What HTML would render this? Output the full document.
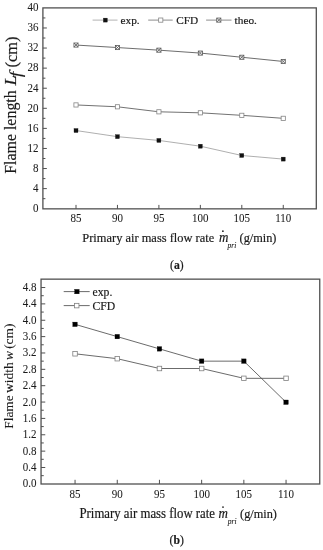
<!DOCTYPE html>
<html><head><meta charset="utf-8"><title>Flame length and width</title>
<style>
html,body{margin:0;padding:0;background:#fff;}
svg{display:block;}
text{font-family:"Liberation Serif","Times New Roman",serif;fill:#1a1a1a;stroke:#1a1a1a;stroke-width:0.18px;}
</style></head><body>
<svg width="323" height="550" viewBox="0 0 323 550">
<rect width="323" height="550" fill="#ffffff"/>

<g id="chart-a">
<rect x="42.9" y="7.9" width="273.4" height="200.95" fill="none" stroke="#505050" stroke-width="1.3"/>
<text transform="translate(38.6,211.98) scale(1,1.09)" font-size="11" text-anchor="end" style="stroke-width:0.05px">0</text>
<line x1="42.9" y1="198.66" x2="45.4" y2="198.66" stroke="#505050" stroke-width="1"/>
<line x1="42.9" y1="188.62" x2="46.85" y2="188.62" stroke="#505050" stroke-width="1"/>
<text transform="translate(38.6,191.91) scale(1,1.09)" font-size="11" text-anchor="end" style="stroke-width:0.05px">4</text>
<line x1="42.9" y1="178.58" x2="45.4" y2="178.58" stroke="#505050" stroke-width="1"/>
<line x1="42.9" y1="168.54" x2="46.85" y2="168.54" stroke="#505050" stroke-width="1"/>
<text transform="translate(38.6,171.82) scale(1,1.09)" font-size="11" text-anchor="end" style="stroke-width:0.05px">8</text>
<line x1="42.9" y1="158.5" x2="45.4" y2="158.5" stroke="#505050" stroke-width="1"/>
<line x1="42.9" y1="148.46" x2="46.85" y2="148.46" stroke="#505050" stroke-width="1"/>
<text transform="translate(38.6,151.74) scale(1,1.09)" font-size="11" text-anchor="end" style="stroke-width:0.05px">12</text>
<line x1="42.9" y1="138.42" x2="45.4" y2="138.42" stroke="#505050" stroke-width="1"/>
<line x1="42.9" y1="128.38" x2="46.85" y2="128.38" stroke="#505050" stroke-width="1"/>
<text transform="translate(38.6,131.66) scale(1,1.09)" font-size="11" text-anchor="end" style="stroke-width:0.05px">16</text>
<line x1="42.9" y1="118.34" x2="45.4" y2="118.34" stroke="#505050" stroke-width="1"/>
<line x1="42.9" y1="108.3" x2="46.85" y2="108.3" stroke="#505050" stroke-width="1"/>
<text transform="translate(38.6,111.58) scale(1,1.09)" font-size="11" text-anchor="end" style="stroke-width:0.05px">20</text>
<line x1="42.9" y1="98.26" x2="45.4" y2="98.26" stroke="#505050" stroke-width="1"/>
<line x1="42.9" y1="88.22" x2="46.85" y2="88.22" stroke="#505050" stroke-width="1"/>
<text transform="translate(38.6,91.5) scale(1,1.09)" font-size="11" text-anchor="end" style="stroke-width:0.05px">24</text>
<line x1="42.9" y1="78.18" x2="45.4" y2="78.18" stroke="#505050" stroke-width="1"/>
<line x1="42.9" y1="68.14" x2="46.85" y2="68.14" stroke="#505050" stroke-width="1"/>
<text transform="translate(38.6,71.42) scale(1,1.09)" font-size="11" text-anchor="end" style="stroke-width:0.05px">28</text>
<line x1="42.9" y1="58.1" x2="45.4" y2="58.1" stroke="#505050" stroke-width="1"/>
<line x1="42.9" y1="48.06" x2="46.85" y2="48.06" stroke="#505050" stroke-width="1"/>
<text transform="translate(38.6,51.35) scale(1,1.09)" font-size="11" text-anchor="end" style="stroke-width:0.05px">32</text>
<line x1="42.9" y1="38.02" x2="45.4" y2="38.02" stroke="#505050" stroke-width="1"/>
<line x1="42.9" y1="27.98" x2="46.85" y2="27.98" stroke="#505050" stroke-width="1"/>
<text transform="translate(38.6,31.27) scale(1,1.09)" font-size="11" text-anchor="end" style="stroke-width:0.05px">36</text>
<line x1="42.9" y1="17.94" x2="45.4" y2="17.94" stroke="#505050" stroke-width="1"/>
<text transform="translate(38.6,11.19) scale(1,1.09)" font-size="11" text-anchor="end" style="stroke-width:0.05px">40</text>
<line x1="76" y1="208.85" x2="76" y2="204.9" stroke="#505050" stroke-width="1"/>
<text transform="translate(76,221.6) scale(1,1.06)" font-size="11" text-anchor="middle" style="stroke-width:0.05px">85</text>
<line x1="117.45" y1="208.85" x2="117.45" y2="204.9" stroke="#505050" stroke-width="1"/>
<text transform="translate(117.45,221.6) scale(1,1.06)" font-size="11" text-anchor="middle" style="stroke-width:0.05px">90</text>
<line x1="158.9" y1="208.85" x2="158.9" y2="204.9" stroke="#505050" stroke-width="1"/>
<text transform="translate(158.9,221.6) scale(1,1.06)" font-size="11" text-anchor="middle" style="stroke-width:0.05px">95</text>
<line x1="200.35" y1="208.85" x2="200.35" y2="204.9" stroke="#505050" stroke-width="1"/>
<text transform="translate(200.35,221.6) scale(1,1.06)" font-size="11" text-anchor="middle" style="stroke-width:0.05px">100</text>
<line x1="241.8" y1="208.85" x2="241.8" y2="204.9" stroke="#505050" stroke-width="1"/>
<text transform="translate(241.8,221.6) scale(1,1.06)" font-size="11" text-anchor="middle" style="stroke-width:0.05px">105</text>
<line x1="283.25" y1="208.85" x2="283.25" y2="204.9" stroke="#505050" stroke-width="1"/>
<text transform="translate(283.25,221.6) scale(1,1.06)" font-size="11" text-anchor="middle" style="stroke-width:0.05px">110</text>
<polyline fill="none" stroke="#5c5c5c" stroke-width="0.9" points="76,45.05 117.45,47.56 158.9,50.17 200.35,53.08 241.8,57.25 283.25,61.46"/>
<polyline fill="none" stroke="#626262" stroke-width="0.9" points="76,104.94 117.45,106.79 158.9,111.81 200.35,112.82 241.8,115.33 283.25,118.34"/>
<polyline fill="none" stroke="#9a9a9a" stroke-width="0.8" points="76,130.54 117.45,136.66 158.9,140.43 200.35,146.2 241.8,155.49 283.25,159.1"/>
<rect x="73.95" y="43" width="4.1" height="4.1" fill="#fff" stroke="#555" stroke-width="0.8"/><path d="M73.95 43L78.05 47.1M73.95 47.1L78.05 43" stroke="#555" stroke-width="0.8" fill="none"/>
<rect x="115.4" y="45.51" width="4.1" height="4.1" fill="#fff" stroke="#555" stroke-width="0.8"/><path d="M115.4 45.51L119.5 49.61M115.4 49.61L119.5 45.51" stroke="#555" stroke-width="0.8" fill="none"/>
<rect x="156.85" y="48.12" width="4.1" height="4.1" fill="#fff" stroke="#555" stroke-width="0.8"/><path d="M156.85 48.12L160.95 52.22M156.85 52.22L160.95 48.12" stroke="#555" stroke-width="0.8" fill="none"/>
<rect x="198.3" y="51.03" width="4.1" height="4.1" fill="#fff" stroke="#555" stroke-width="0.8"/><path d="M198.3 51.03L202.4 55.13M198.3 55.13L202.4 51.03" stroke="#555" stroke-width="0.8" fill="none"/>
<rect x="239.75" y="55.2" width="4.1" height="4.1" fill="#fff" stroke="#555" stroke-width="0.8"/><path d="M239.75 55.2L243.85 59.3M239.75 59.3L243.85 55.2" stroke="#555" stroke-width="0.8" fill="none"/>
<rect x="281.2" y="59.41" width="4.1" height="4.1" fill="#fff" stroke="#555" stroke-width="0.8"/><path d="M281.2 59.41L285.3 63.51M281.2 63.51L285.3 59.41" stroke="#555" stroke-width="0.8" fill="none"/>
<rect x="73.9" y="102.84" width="4.2" height="4.2" fill="#fff" stroke="#858585" stroke-width="0.8"/>
<rect x="115.35" y="104.69" width="4.2" height="4.2" fill="#fff" stroke="#858585" stroke-width="0.8"/>
<rect x="156.8" y="109.71" width="4.2" height="4.2" fill="#fff" stroke="#858585" stroke-width="0.8"/>
<rect x="198.25" y="110.72" width="4.2" height="4.2" fill="#fff" stroke="#858585" stroke-width="0.8"/>
<rect x="239.7" y="113.23" width="4.2" height="4.2" fill="#fff" stroke="#858585" stroke-width="0.8"/>
<rect x="281.15" y="116.24" width="4.2" height="4.2" fill="#fff" stroke="#858585" stroke-width="0.8"/>
<rect x="74" y="128.54" width="4" height="4" fill="#111" stroke="#111" stroke-width="0.3"/>
<rect x="115.45" y="134.66" width="4" height="4" fill="#111" stroke="#111" stroke-width="0.3"/>
<rect x="156.9" y="138.43" width="4" height="4" fill="#111" stroke="#111" stroke-width="0.3"/>
<rect x="198.35" y="144.2" width="4" height="4" fill="#111" stroke="#111" stroke-width="0.3"/>
<rect x="239.8" y="153.49" width="4" height="4" fill="#111" stroke="#111" stroke-width="0.3"/>
<rect x="281.25" y="157.1" width="4" height="4" fill="#111" stroke="#111" stroke-width="0.3"/>
<line x1="92.6" y1="20.1" x2="117.5" y2="20.1" stroke="#a0a0a0" stroke-width="0.8"/>
<rect x="103.35" y="18.1" width="4" height="4" fill="#111" stroke="#111" stroke-width="0.3"/>
<text x="120.5" y="24.0" font-size="11.3">exp.</text>
<line x1="148.2" y1="20.1" x2="172.7" y2="20.1" stroke="#707070" stroke-width="0.8"/>
<rect x="158.65" y="18" width="4.2" height="4.2" fill="#fff" stroke="#858585" stroke-width="0.8"/>
<text x="176.3" y="24.0" font-size="11.3">CFD</text>
<line x1="206.1" y1="20.1" x2="231.5" y2="20.1" stroke="#707070" stroke-width="0.8"/>
<rect x="216.75" y="18.05" width="4.1" height="4.1" fill="#fff" stroke="#555" stroke-width="0.8"/><path d="M216.75 18.05L220.85 22.15M216.75 22.15L220.85 18.05" stroke="#555" stroke-width="0.8" fill="none"/>
<text x="234.6" y="24.0" font-size="11.3">theo.</text>
<text transform="translate(16.4,173.8) rotate(-90) scale(0.995,1)" font-size="16">Flame length</text>
<text transform="translate(16.4,85.4) rotate(-90) scale(1.12,1)" font-size="16.6" font-style="italic">L</text>
<text transform="translate(21.2,77.2) rotate(-90) scale(1.25,1)" font-size="16" font-style="italic" style="stroke-width:0.1px">f</text>
<text transform="translate(16.5,67.4) rotate(-90) scale(1.02,1)" font-size="16">(cm)</text>
<text transform="translate(82.3,242.4) scale(1,1.06)" font-size="12.45">Primary air mass flow rate</text><text transform="translate(218.9,242.4) scale(1,1.06)" font-size="13" font-style="italic">m</text><text x="227.6" y="248.3" font-size="7.5" font-style="italic" style="stroke-width:0.1px">pri</text><text transform="translate(239.6,242.4) scale(1,1.06)" font-size="12.3">(g/min)</text><circle cx="222.9" cy="231.2" r="0.85" fill="#1a1a1a"/>
<text x="176.8" y="268.7" font-size="11.6" text-anchor="middle">(<tspan font-weight="bold">a</tspan>)</text>
</g>
<g id="chart-b">
<rect x="41.05" y="279.15" width="278.7" height="204.85" fill="none" stroke="#505050" stroke-width="1.3"/>
<text transform="translate(36.6,487.34) scale(1,1.08)" font-size="11" text-anchor="end" style="stroke-width:0.05px">0.0</text>
<line x1="41.05" y1="475.67" x2="43.75" y2="475.67" stroke="#505050" stroke-width="1"/>
<line x1="41.05" y1="467.49" x2="45.25" y2="467.49" stroke="#505050" stroke-width="1"/>
<text transform="translate(36.6,470.98) scale(1,1.08)" font-size="11" text-anchor="end" style="stroke-width:0.05px">0.4</text>
<line x1="41.05" y1="459.31" x2="43.75" y2="459.31" stroke="#505050" stroke-width="1"/>
<line x1="41.05" y1="451.13" x2="45.25" y2="451.13" stroke="#505050" stroke-width="1"/>
<text transform="translate(36.6,454.62) scale(1,1.08)" font-size="11" text-anchor="end" style="stroke-width:0.05px">0.8</text>
<line x1="41.05" y1="442.95" x2="43.75" y2="442.95" stroke="#505050" stroke-width="1"/>
<line x1="41.05" y1="434.77" x2="45.25" y2="434.77" stroke="#505050" stroke-width="1"/>
<text transform="translate(36.6,438.26) scale(1,1.08)" font-size="11" text-anchor="end" style="stroke-width:0.05px">1.2</text>
<line x1="41.05" y1="426.59" x2="43.75" y2="426.59" stroke="#505050" stroke-width="1"/>
<line x1="41.05" y1="418.41" x2="45.25" y2="418.41" stroke="#505050" stroke-width="1"/>
<text transform="translate(36.6,421.9) scale(1,1.08)" font-size="11" text-anchor="end" style="stroke-width:0.05px">1.6</text>
<line x1="41.05" y1="410.23" x2="43.75" y2="410.23" stroke="#505050" stroke-width="1"/>
<line x1="41.05" y1="402.05" x2="45.25" y2="402.05" stroke="#505050" stroke-width="1"/>
<text transform="translate(36.6,405.54) scale(1,1.08)" font-size="11" text-anchor="end" style="stroke-width:0.05px">2.0</text>
<line x1="41.05" y1="393.87" x2="43.75" y2="393.87" stroke="#505050" stroke-width="1"/>
<line x1="41.05" y1="385.69" x2="45.25" y2="385.69" stroke="#505050" stroke-width="1"/>
<text transform="translate(36.6,389.18) scale(1,1.08)" font-size="11" text-anchor="end" style="stroke-width:0.05px">2.4</text>
<line x1="41.05" y1="377.51" x2="43.75" y2="377.51" stroke="#505050" stroke-width="1"/>
<line x1="41.05" y1="369.33" x2="45.25" y2="369.33" stroke="#505050" stroke-width="1"/>
<text transform="translate(36.6,372.82) scale(1,1.08)" font-size="11" text-anchor="end" style="stroke-width:0.05px">2.8</text>
<line x1="41.05" y1="361.15" x2="43.75" y2="361.15" stroke="#505050" stroke-width="1"/>
<line x1="41.05" y1="352.97" x2="45.25" y2="352.97" stroke="#505050" stroke-width="1"/>
<text transform="translate(36.6,356.46) scale(1,1.08)" font-size="11" text-anchor="end" style="stroke-width:0.05px">3.2</text>
<line x1="41.05" y1="344.79" x2="43.75" y2="344.79" stroke="#505050" stroke-width="1"/>
<line x1="41.05" y1="336.61" x2="45.25" y2="336.61" stroke="#505050" stroke-width="1"/>
<text transform="translate(36.6,340.1) scale(1,1.08)" font-size="11" text-anchor="end" style="stroke-width:0.05px">3.6</text>
<line x1="41.05" y1="328.43" x2="43.75" y2="328.43" stroke="#505050" stroke-width="1"/>
<line x1="41.05" y1="320.25" x2="45.25" y2="320.25" stroke="#505050" stroke-width="1"/>
<text transform="translate(36.6,323.74) scale(1,1.08)" font-size="11" text-anchor="end" style="stroke-width:0.05px">4.0</text>
<line x1="41.05" y1="312.07" x2="43.75" y2="312.07" stroke="#505050" stroke-width="1"/>
<line x1="41.05" y1="303.89" x2="45.25" y2="303.89" stroke="#505050" stroke-width="1"/>
<text transform="translate(36.6,307.38) scale(1,1.08)" font-size="11" text-anchor="end" style="stroke-width:0.05px">4.4</text>
<line x1="41.05" y1="295.71" x2="43.75" y2="295.71" stroke="#505050" stroke-width="1"/>
<line x1="41.05" y1="287.53" x2="45.25" y2="287.53" stroke="#505050" stroke-width="1"/>
<text transform="translate(36.6,291.01) scale(1,1.08)" font-size="11" text-anchor="end" style="stroke-width:0.05px">4.8</text>
<line x1="75.05" y1="484" x2="75.05" y2="479.8" stroke="#505050" stroke-width="1"/>
<text transform="translate(75.05,497.5) scale(1,1.06)" font-size="11" text-anchor="middle" style="stroke-width:0.05px">85</text>
<line x1="117.25" y1="484" x2="117.25" y2="479.8" stroke="#505050" stroke-width="1"/>
<text transform="translate(117.25,497.5) scale(1,1.06)" font-size="11" text-anchor="middle" style="stroke-width:0.05px">90</text>
<line x1="159.45" y1="484" x2="159.45" y2="479.8" stroke="#505050" stroke-width="1"/>
<text transform="translate(159.45,497.5) scale(1,1.06)" font-size="11" text-anchor="middle" style="stroke-width:0.05px">95</text>
<line x1="201.65" y1="484" x2="201.65" y2="479.8" stroke="#505050" stroke-width="1"/>
<text transform="translate(201.65,497.5) scale(1,1.06)" font-size="11" text-anchor="middle" style="stroke-width:0.05px">100</text>
<line x1="243.85" y1="484" x2="243.85" y2="479.8" stroke="#505050" stroke-width="1"/>
<text transform="translate(243.85,497.5) scale(1,1.06)" font-size="11" text-anchor="middle" style="stroke-width:0.05px">105</text>
<line x1="286.05" y1="484" x2="286.05" y2="479.8" stroke="#505050" stroke-width="1"/>
<text transform="translate(286.05,497.5) scale(1,1.06)" font-size="11" text-anchor="middle" style="stroke-width:0.05px">110</text>
<polyline fill="none" stroke="#505050" stroke-width="0.85" points="75.05,353.79 117.25,358.7 159.45,368.51 201.65,368.51 243.85,378.33 286.05,378.33"/>
<polyline fill="none" stroke="#505050" stroke-width="0.85" points="75.05,324.34 117.25,336.61 159.45,348.88 201.65,361.15 243.85,361.15 286.05,402.25"/>
<rect x="72.8" y="351.54" width="4.5" height="4.5" fill="#fff" stroke="#808080" stroke-width="0.8"/>
<rect x="115" y="356.45" width="4.5" height="4.5" fill="#fff" stroke="#808080" stroke-width="0.8"/>
<rect x="157.2" y="366.26" width="4.5" height="4.5" fill="#fff" stroke="#808080" stroke-width="0.8"/>
<rect x="199.4" y="366.26" width="4.5" height="4.5" fill="#fff" stroke="#808080" stroke-width="0.8"/>
<rect x="241.6" y="376.08" width="4.5" height="4.5" fill="#fff" stroke="#808080" stroke-width="0.8"/>
<rect x="283.8" y="376.08" width="4.5" height="4.5" fill="#fff" stroke="#808080" stroke-width="0.8"/>
<rect x="72.8" y="322.09" width="4.5" height="4.5" fill="#000" stroke="#000" stroke-width="0.3"/>
<rect x="115" y="334.36" width="4.5" height="4.5" fill="#000" stroke="#000" stroke-width="0.3"/>
<rect x="157.2" y="346.63" width="4.5" height="4.5" fill="#000" stroke="#000" stroke-width="0.3"/>
<rect x="199.4" y="358.9" width="4.5" height="4.5" fill="#000" stroke="#000" stroke-width="0.3"/>
<rect x="241.6" y="358.9" width="4.5" height="4.5" fill="#000" stroke="#000" stroke-width="0.3"/>
<rect x="283.8" y="400" width="4.5" height="4.5" fill="#000" stroke="#000" stroke-width="0.3"/>
<line x1="63.7" y1="291.6" x2="89.7" y2="291.6" stroke="#505050" stroke-width="0.85"/>
<rect x="74.65" y="289.35" width="4.5" height="4.5" fill="#000" stroke="#000" stroke-width="0.3"/>
<text transform="translate(92.5,295.75) scale(1,1.05)" font-size="11.7">exp.</text>
<line x1="63.7" y1="305.6" x2="89.7" y2="305.6" stroke="#505050" stroke-width="0.85"/>
<rect x="74.45" y="303.35" width="4.5" height="4.5" fill="#fff" stroke="#808080" stroke-width="0.8"/>
<text transform="translate(92.5,309.95) scale(1,1.05)" font-size="11.7">CFD</text>
<text transform="translate(13,428.8) rotate(-90)" font-size="13.45" word-spacing="-1.1" style="stroke-width:0.08px">Flame width <tspan font-style="italic">w</tspan> (cm)</text>
<text transform="translate(79.5,517.6) scale(1,1.06)" font-size="12.78">Primary air mass flow rate</text><text transform="translate(218.5,517.6) scale(1,1.06)" font-size="13" font-style="italic">m</text><text x="227.8" y="523.5" font-size="7.5" font-style="italic" style="stroke-width:0.1px">pri</text><text transform="translate(240.1,517.6) scale(1,1.06)" font-size="12.3">(g/min)</text><circle cx="223.0" cy="507.1" r="0.85" fill="#1a1a1a"/>
<text x="176.7" y="543.7" font-size="11.7" text-anchor="middle">(<tspan font-weight="bold">b</tspan>)</text>
</g>
</svg></body></html>
